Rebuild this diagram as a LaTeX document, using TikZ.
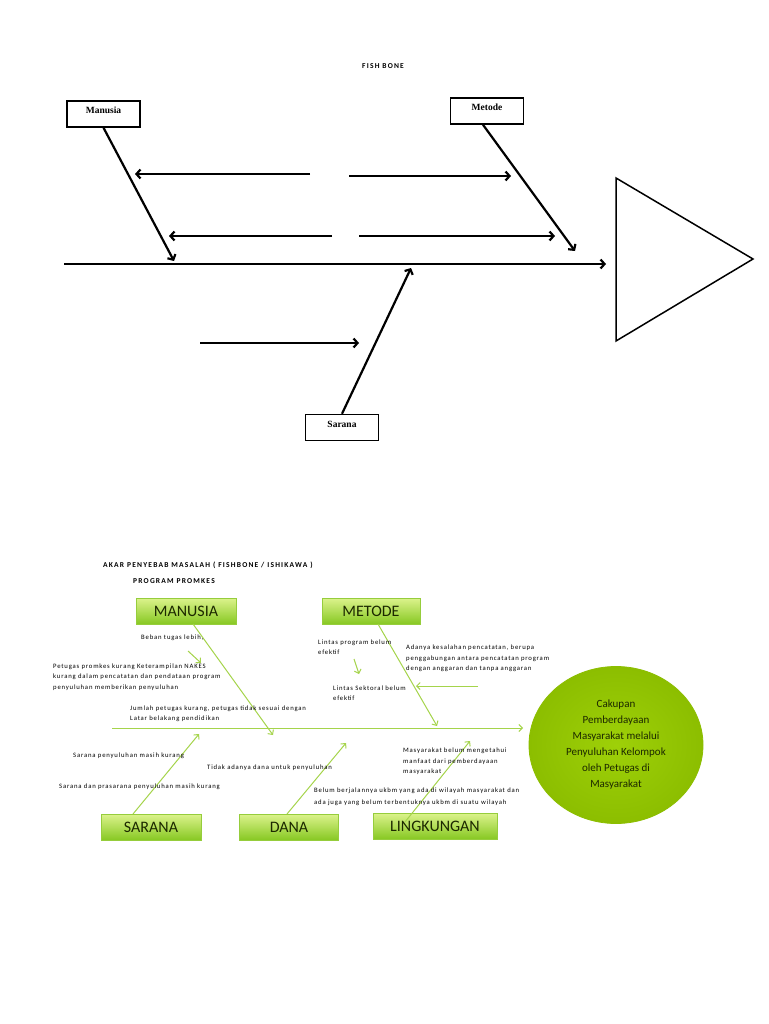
\documentclass[tikz,border=0pt]{standalone}
\usepackage{fontspec}
\setmainfont{Carlito}
\newfontfamily\serifb{Liberation Serif}
\newfontfamily\tinyf[LetterSpace=12]{Carlito}
\newfontfamily\titlef[LetterSpace=16]{Carlito}
\usetikzlibrary{arrows.meta,shapes.geometric}
\definecolor{boxtop}{RGB}{220,243,140}
\definecolor{boxbot}{RGB}{135,200,35}
\definecolor{boxline}{RGB}{150,205,60}
\definecolor{bonecol}{RGB}{165,212,75}
\definecolor{ballin}{RGB}{158,208,8}
\definecolor{ballout}{RGB}{140,190,0}
\definecolor{dtext}{RGB}{28,40,0}
\tikzset{
  blackbone/.style={line width=2.2pt,-{Straight Barb[length=4pt,width=9pt]}},
  catbox/.style={draw,line width=1.5pt,minimum width=73pt,minimum height=26pt,inner sep=0pt,
    font=\serifb\bfseries\fontsize{9.5}{10}\selectfont,text height=7pt,text depth=8pt},
  greenbox/.style={draw=boxline,line width=0.8pt,top color=boxtop,bottom color=boxbot,
    minimum height=26pt,inner sep=0pt,text=dtext,font=\fontsize{16}{18}\selectfont},
  greenbone/.style={draw=bonecol,line width=1pt,-{Straight Barb[length=3.5pt,width=7pt]}},
  note/.style={inner sep=0pt,anchor=north west,align=left,text=black,
    font=\tinyf\fontsize{6.7}{10.5}\selectfont},
  titletext/.style={inner sep=0pt,font=\titlef\bfseries\fontsize{7.5}{9}\selectfont}
}
\begin{document}
\begin{tikzpicture}[x=1pt,y=-1pt]
\fill[white] (0,0) rectangle (768,1024);
\useasboundingbox (0,0) rectangle (768,1024);

% ---------------- top fishbone ----------------
\node[titletext] (fbtitle) at (383,66) {FISH BONE};
\node[catbox] (man) at (103.5,114) {Manusia};
\node[catbox] (met) at (487,111) {Metode};
\node[catbox] (sar) at (342,427.5) {Sarana};
\draw[line width=1.5pt,line join=miter] (616,178) coordinate (h1) -- (753,259) coordinate (h2)
  -- (616,341) coordinate (h3) -- cycle;
\coordinate (spL) at (64,264);
\coordinate (spR) at (606,264);
\draw[blackbone] (spL) -- (spR);
\coordinate (manT) at (174,261);
\coordinate (metT) at (575,251);
\coordinate (sarT) at (411,268);
\draw[blackbone] (man.south) -- (manT);
\draw[blackbone] (met.south) ++(-4,0) -- (metT);
\draw[blackbone] (sar.north) -- (sarT);
\coordinate (a1s) at (310,174); \coordinate (a1e) at (135,174);
\coordinate (a2s) at (349,176); \coordinate (a2e) at (511,176);
\coordinate (a3s) at (332,236); \coordinate (a3e) at (169,236);
\coordinate (a4s) at (359,236); \coordinate (a4e) at (555,236);
\coordinate (a5s) at (200,343); \coordinate (a5e) at (359,343);
\draw[blackbone] (a1s) -- (a1e);
\draw[blackbone] (a2s) -- (a2e);
\draw[blackbone] (a3s) -- (a3e);
\draw[blackbone] (a4s) -- (a4e);
\draw[blackbone] (a5s) -- (a5e);

% ---------------- bottom fishbone ----------------
\node[titletext,anchor=west] (t1) at (103,565) {AKAR PENYEBAB MASALAH ( FISHBONE / ISHIKAWA )};
\node[titletext,anchor=west] (t2) at (133,581) {PROGRAM PROMKES};

\node[greenbox,minimum width=100pt] (gman) at (186,611) {MANUSIA};
\node[greenbox,minimum width=98pt] (gmet) at (371,611) {METODE};
\node[greenbox,minimum width=100pt] (gsar) at (151,827) {SARANA};
\node[greenbox,minimum width=99pt] (gdan) at (289,827) {DANA};
\node[greenbox,minimum width=124pt] (glin) at (435,826) {LINGKUNGAN};

\node[ellipse,draw=ballout,line width=0.8pt,inner color=ballin,outer color=ballout,
  minimum width=174pt,minimum height=157pt,inner sep=0pt,align=center,text=dtext,
  font=\fontsize{11}{16}\selectfont] (goal) at (616,745)
  {Cakupan\\Pemberdayaan\\Masyarakat melalui\\Penyuluhan Kelompok\\oleh Petugas di\\Masyarakat};

\coordinate (gspL) at (112,728);
\coordinate (gspR) at (523,728);
\draw[greenbone] (gspL) -- (gspR);

\coordinate (gmanS) at (193,624);
\coordinate (gmanT) at (273,735);
\draw[greenbone] (gmanS) -- (gmanT);
\coordinate (gmetS) at (378,624);
\coordinate (gmetT) at (437,726);
\draw[greenbone] (gmetS) -- (gmetT);
\coordinate (gsarS) at (133,814);
\coordinate (gsarT) at (199,734);
\draw[greenbone] (gsarS) -- (gsarT);
\coordinate (gdanS) at (287,814);
\coordinate (gdanT) at (346,743);
\draw[greenbone] (gdanS) -- (gdanT);
\coordinate (glinS) at (405,822);
\coordinate (glinT) at (470,741);
\draw[greenbone] (glinS) -- (glinT);

\coordinate (s1s) at (188,651); \coordinate (s1e) at (201,663);
\draw[greenbone] (s1s) -- (s1e);
\coordinate (s2s) at (354,659); \coordinate (s2e) at (359,674);
\draw[greenbone] (s2s) -- (s2e);
\coordinate (s3s) at (478,686); \coordinate (s3e) at (416,686);
\draw[greenbone] (s3s) -- (s3e);

% notes
\node[note] (n1) at (141,635) {Beban tugas lebih,};
\node[note] (n2) at (53,663.5) {Petugas promkes kurang Keterampilan NAKES\\kurang dalam pencatatan dan pendataan program\\penyuluhan memberikan penyuluhan};
\node[note] (n3) at (130,705.5) {Jumlah petugas kurang, petugas tidak sesuai dengan\\Latar belakang pendidikan};
\node[note] (n4) at (73,752.5) {Sarana penyuluhan masih kurang};
\node[note] (n5) at (207,764.5) {Tidak adanya dana untuk penyuluhan};
\node[note] (n6) at (59,783.5) {Sarana dan prasarana penyuluhan masih kurang};
\node[note] (n7) at (318,639.5) {Lintas program belum\\efektif};
\node[note] (n8) at (333,685.5) {Lintas Sektoral belum\\efektif};
\node[note,text width=150pt] (n9) at (406,645) {\makebox[150pt][s]{Adanya kesalahan pencatatan, berupa}\\\makebox[150pt][s]{penggabungan antara pencatatan program}\\dengan anggaran dan tanpa anggaran};
\node[note,text width=120pt] (n10) at (403,748) {\makebox[120pt][s]{Masyarakat belum mengetahui}\\\makebox[120pt][s]{manfaat dari pemberdayaan}\\masyarakat};
\node[note,font=\tinyf\fontsize{6.7}{12}\selectfont] (n11) at (314,787.5) {Belum berjalannya ukbm yang ada di wilayah masyarakat dan\\ada juga yang belum terbentuknya ukbm di suatu wilayah};
\end{tikzpicture}
\end{document}
